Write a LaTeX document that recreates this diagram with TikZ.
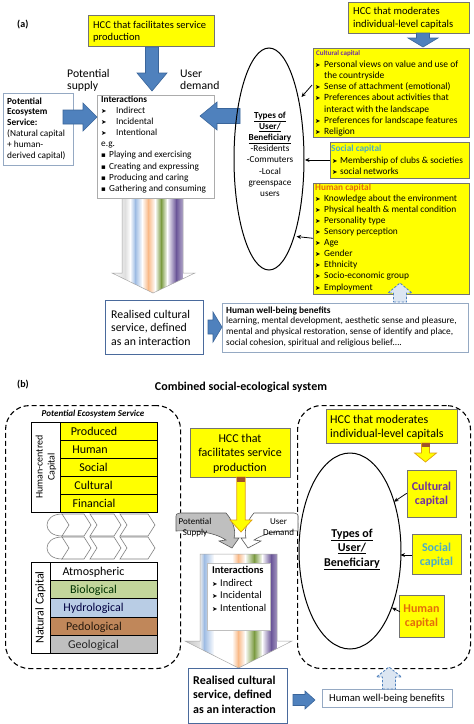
\documentclass[tikz,border=0pt]{standalone}
\usepackage{fontspec}
\setmainfont{Carlito}
\newfontfamily\symf{DejaVu Sans}
\usetikzlibrary{shapes.geometric,arrows.meta}
\definecolor{ylw}{HTML}{FFFF00}
\definecolor{bluA}{HTML}{4F81BD}
\definecolor{bluD}{HTML}{3A659A}
\definecolor{boxb}{HTML}{95A9C3}
\definecolor{realb}{HTML}{4A6A9C}
\definecolor{cultc}{HTML}{7030A0}
\definecolor{socc}{HTML}{4BACC6}
\definecolor{humc}{HTML}{E46C0A}
\definecolor{bio}{HTML}{C3D69B}
\definecolor{hyd}{HTML}{B9CDE5}
\definecolor{ped}{HTML}{C0875A}
\definecolor{geo}{HTML}{BFBFBF}
\definecolor{sblue}{HTML}{9DBBE3}
\definecolor{sorange}{HTML}{F9B987}
\definecolor{sgreen}{HTML}{7A9A40}
\definecolor{spurple}{HTML}{6A5598}
\definecolor{dfill}{HTML}{DCE6F2}
\definecolor{yedge}{HTML}{E0A010}
\definecolor{ybrown}{HTML}{A0522D}
\definecolor{gline}{HTML}{7F7F7F}
\newcommand\fsz[2]{\fontsize{#1}{#2}\selectfont}
\newcommand\tbox[2]{\parbox[t]{#1pt}{\raggedright #2}}
\newcommand\cbox[2]{\parbox[t]{#1pt}{\centering #2}}
\newcommand\arw[1]{\makebox[#1pt][l]{{\symf\fontsize{6.5}{6.5}\selectfont ➤}}}
\newcommand\sqb{\makebox[8pt][l]{{\symf\fontsize{7}{7}\selectfont ▪}}}
\newcommand\blkdown[7]{\path[#1] ({#2-#5},#3) -- ({#2+#5},#3) -- ({#2+#5},{#4-#7}) -- ({#2+#6},{#4-#7}) -- (#2,#4) -- ({#2-#6},{#4-#7}) -- ({#2-#5},{#4-#7}) -- cycle;}
\newcommand\blkup[7]{\path[#1] ({#2-#5},#3) -- ({#2+#5},#3) -- ({#2+#5},{#4+#7}) -- ({#2+#6},{#4+#7}) -- (#2,#4) -- ({#2-#6},{#4+#7}) -- ({#2-#5},{#4+#7}) -- cycle;}
\newcommand\blkright[7]{\path[#1] (#3,{#2-#5}) -- ({#4-#7},{#2-#5}) -- ({#4-#7},{#2-#6}) -- (#4,#2) -- ({#4-#7},{#2+#6}) -- ({#4-#7},{#2+#5}) -- (#3,{#2+#5}) -- cycle;}
\newcommand\blkleft[7]{\path[#1] (#4,{#2-#5}) -- ({#3+#7},{#2-#5}) -- ({#3+#7},{#2-#6}) -- (#3,#2) -- ({#3+#7},{#2+#6}) -- ({#3+#7},{#2+#5}) -- (#4,{#2+#5}) -- cycle;}
\newcommand\strp[6]{\shade[left color=#5, right color=#6] (#1,#3) rectangle (#2,#4);}
\begin{document}
\begin{tikzpicture}[x=1pt,y=-1pt,
  tx/.style={anchor=base west, inner sep=0pt},
  tc/.style={anchor=base, inner sep=0pt},
  ybox/.style={draw=black!55, fill=ylw, line width=0.5pt, inner sep=0pt, anchor=north west},
  wbox/.style={draw=boxb, fill=white, line width=0.8pt, inner sep=0pt, anchor=north west},
  cell/.style={draw=black, line width=0.6pt, minimum height=18pt, anchor=north west, inner sep=0pt},
  bluearr/.style={fill=bluA, draw=bluD, line width=0.6pt},
  yarr/.style={fill=ylw, draw=yedge, line width=0.7pt},
  dasharr/.style={fill=dfill, draw=bluA, line width=0.8pt, dash pattern=on 2.5pt off 1.5pt},
  tarr/.style={-{Stealth[length=4.5pt,width=4pt]}, line width=0.8pt},
  dashreg/.style={draw=black, line width=1.1pt, dash pattern=on 5pt off 3pt, rounded corners=24pt, inner sep=0pt, anchor=north west},
  chev/.style={fill=white, draw=gline, line width=0.6pt},
]
\useasboundingbox (0,0) rectangle (474,724);
\fill[white] (0,0) rectangle (474,724);

%%%%%%%%%%%%%%%% (a)
\node[tx] (labA) at (17,27) {\fsz{10}{12}\textbf{(a)}};

% gradient arrow (a)
\begin{scope}
\clip (122,198) -- (183,198) -- (183,273) -- (195,273) -- (153,293) -- (112,273) -- (122,273) -- cycle;
\strp{111}{125.3}{197}{294}{white}{gray!25}
\strp{125}{130.3}{197}{294}{gray!25}{white}
\strp{130}{135.3}{197}{294}{white}{sblue}
\strp{135}{142.3}{197}{294}{sblue}{white}
\strp{142}{148.3}{197}{294}{white}{sorange}
\strp{148}{155.3}{197}{294}{sorange}{white}
\strp{155}{161.3}{197}{294}{white}{sgreen}
\strp{161}{167.3}{197}{294}{sgreen}{white}
\strp{167}{176.3}{197}{294}{white}{spurple}
\strp{176}{183.3}{197}{294}{spurple}{spurple!50}
\fill[white] (183,197) rectangle (196,294);
\end{scope}
\draw[gray!70, line width=0.5pt] (122,198) -- (183,198) -- (183,273) -- (195,273) -- (153,293) -- (112,273) -- (122,273) -- cycle;

\node[ybox, minimum width=126pt, minimum height=31pt] (hccA) at (88,15) {};
\node[tx] (hccAt) at (93,28) {\tbox{125}{\fsz{10.5}{12}HCC that facilitates service\\production}};
\blkdown{bluearr}{152}{47}{91}{6.5}{15}{18}

\node[tx] (potA) at (67,77) {\tbox{60}{\fsz{11.7}{12.5}Potential\\supply}};
\node[tx] (usrA) at (180,77) {\tbox{60}{\fsz{11.7}{12.5}User\\demand}};

\node[wbox, minimum width=70pt, minimum height=72pt] (pesA) at (3,93) {};
\node[tx] (pesAt) at (7,104) {\tbox{68}{\fsz{9.3}{10.9}\textbf{Potential}\\\textbf{Ecosystem}\\\textbf{Service:}\\(Natural capital\\+ human-\\derived capital)}};

\node[draw=gray!65, fill=white, line width=0.7pt, inner sep=0pt, anchor=north west, minimum width=117pt, minimum height=103pt] (intA) at (97,95) {};
\node[tx] (intAt) at (101,102.7) {\tbox{115}{\fsz{9.3}{11.05}\textbf{Interactions}\\
\arw{15}Indirect\\
\arw{15}Incidental\\
\arw{15}Intentional\\
e.g.\\
\sqb Playing and exercising\\
\sqb Creating and expressing\\
\sqb Producing and caring\\
\sqb Gathering and consuming}};

\blkright{bluearr}{117}{63}{97}{7}{14}{14}
\blkleft{bluearr}{116}{200}{240}{7.5}{14}{17}

\node[draw, ellipse, line width=1pt, minimum width=70pt, minimum height=222pt, inner sep=0pt] (ellA) at (269,159) {};
\node[tc] (ellAt) at (270,118) {\cbox{64}{\fsz{9.2}{11.2}\underline{\textbf{Types of}}\\\underline{\textbf{User/}}\\\underline{\textbf{Beneficiary}}\\-Residents\\-Commuters\\-Local\\greenspace\\users}};

\node[ybox, minimum width=121pt, minimum height=31pt] (hccmA) at (348,2) {};
\node[tx] (hccmAt) at (353,14.5) {\tbox{118}{\fsz{10.6}{13}HCC that moderates\\individual-level capitals}};
\blkdown{bluearr}{423}{33}{47}{6.5}{15}{9}

\node[ybox, minimum width=156pt, minimum height=89pt] (cultA) at (313,48) {};
\node[tx] (cultAh) at (316,55.5) {\fsz{7}{8}\textbf{\color{cultc}Cultural capital}};
\node[tx] (cultAi) at (315,67) {\tbox{154}{\fsz{9.5}{11.25}\arw{9}Personal views on value and use of\\
\hspace*{9pt}the countryside\\
\arw{9}Sense of attachment (emotional)\\
\arw{9}Preferences about activities that\\
\hspace*{9pt}interact with the landscape\\
\arw{9}Preferences for landscape features\\
\arw{9}Religion}};

\node[ybox, minimum width=139pt, minimum height=36pt] (socA) at (330,142) {};
\node[tx] (socAh) at (331,151.5) {\fsz{9.3}{11}\textbf{\color{socc}Social capital}};
\node[tx] (socAi) at (332,163) {\tbox{137}{\fsz{9.3}{11}\arw{8}Membership of clubs \& societies\\
\arw{8}social networks}};

\node[ybox, minimum width=156pt, minimum height=111pt] (humA) at (313,183) {};
\node[tx] (humAh) at (315,190.5) {\fsz{9.3}{11}\textbf{\color{humc}Human capital}};
\node[tx] (humAi) at (315,201.7) {\tbox{154}{\fsz{9.4}{11.04}\arw{9}Knowledge about the environment\\
\arw{9}Physical health \& mental condition\\
\arw{9}Personality type\\
\arw{9}Sensory perception\\
\arw{9}Age\\
\arw{9}Gender\\
\arw{9}Ethnicity\\
\arw{9}Socio-economic group\\
\arw{9}Employment}};

\coordinate (cA1) at (312,85);   \coordinate (eA1) at (301.5,97);
\coordinate (sA1) at (330,160);  \coordinate (eA2) at (305,160);
\coordinate (hA1) at (313,238.3);\coordinate (eA3) at (296.5,236.5);
\draw[tarr] (cA1) -- (eA1);
\draw[tarr] (sA1) -- (eA2);
\draw[tarr] (hA1) -- (eA3);

\node[wbox, minimum width=246pt, minimum height=49pt] (hwbA) at (222,303) {};
\node[tx] (hwbAt) at (226,313) {\tbox{245}{\fsz{9.35}{10.8}\textbf{Human well-being benefits}\\
learning, mental development, aesthetic sense and pleasure,\\
mental and physical restoration, sense of identify and place,\\
social cohesion, spiritual and religious belief….}};
\blkup{dasharr}{400}{302}{283}{6.5}{12}{10}

\node[draw=realb, line width=1.2pt, fill=white, inner sep=0pt, anchor=north west, minimum width=98pt, minimum height=54pt] (realA) at (105,300) {};
\node[tx] (realAt) at (111,318) {\tbox{95}{\fsz{11.8}{13.5}Realised cultural\\service, defined\\as an interaction}};
\blkright{bluearr}{327}{208}{222}{7}{15}{9}

%%%%%%%%%%%%%%%% (b)
\node[tx] (labB) at (17,387) {\fsz{10}{12}\textbf{(b)}};
\node[tc] (titB) at (241,390) {\fsz{12}{14}\textbf{Combined social-ecological system}};

\node[dashreg, minimum width=175pt, minimum height=263pt] (regL) at (5,405) {};
\node[dashreg, minimum width=173pt, minimum height=263pt] (regR) at (297,405) {};

\node[tc] (pesB) at (93,416) {\fsz{9}{10}\textbf{\textit{Potential Ecosystem Service}}};

% upper table
\node[cell, fill=white, minimum width=29pt, minimum height=90pt] (hcCol) at (31,422) {};
\node[cell, fill=ylw, minimum width=97pt] (tP) at (60,422) {};
\node[cell, fill=ylw, minimum width=97pt] (tH) at (60,440) {};
\node[cell, fill=ylw, minimum width=97pt] (tS) at (60,458) {};
\node[cell, fill=ylw, minimum width=97pt] (tC) at (60,476) {};
\node[cell, fill=ylw, minimum width=97pt] (tF) at (60,494) {};
\node[draw, line width=1.2pt, minimum width=126pt, minimum height=90pt, anchor=north west, inner sep=0pt] (tabU) at (31,422) {};
\node[tc] (tPt) at (94,435) {\fsz{12}{14}Produced};
\node[tc] (tHt) at (90,453) {\fsz{12}{14}Human};
\node[tc] (tSt) at (93.5,471) {\fsz{12}{14}Social};
\node[tc] (tCt) at (93.5,489) {\fsz{12}{14}Cultural};
\node[tc] (tFt) at (94,507) {\fsz{12}{14}Financial};
\node[rotate=90, inner sep=0pt, align=center, font=\fsz{10}{12}] (hcLab) at (46,467) {Human-centred\\Capital};

% interleaving arrows
\foreach \yy in {514,537} {
  \foreach \xa/\xb in {62/84, 90/114, 120/148} {
    \path[chev] (\xa,\yy) -- (\xb,\yy) -- (\xb+7,\yy+11) -- (\xb,\yy+22) -- (\xa,\yy+22) -- (\xa+7,\yy+11) -- cycle;
  }
  \draw[gline, line width=0.6pt] (62,\yy) .. controls (42,\yy) and (42,\yy+22) .. (62,\yy+22);
}

% lower table
\node[cell, fill=white, minimum width=19pt, minimum height=91pt] (ncCol) at (31,562) {};
\node[cell, fill=white, minimum width=107pt] (tAt) at (50,562) {};
\node[cell, fill=bio, minimum width=107pt] (tBi) at (50,580) {};
\node[cell, fill=hyd, minimum width=107pt, minimum height=19pt] (tHy) at (50,598) {};
\node[cell, fill=ped, minimum width=107pt] (tPe) at (50,617) {};
\node[cell, fill=geo, minimum width=107pt] (tGe) at (50,635) {};
\node[draw, line width=1.2pt, minimum width=126pt, minimum height=91pt, anchor=north west, inner sep=0pt] (tabL) at (31,562) {};
\node[tc] (tAtt) at (93.5,575) {\fsz{12}{14}Atmospheric};
\node[tc] (tBit) at (93.5,593) {\fsz{12}{14}\color{black!80!green}Biological};
\node[tc] (tHyt) at (93.5,611.5) {\fsz{12}{14}\color{black!75!blue}Hydrological};
\node[tc] (tPet) at (94,630) {\fsz{12}{14}\color{black!80!brown}Pedological};
\node[tc] (tGet) at (93.5,648) {\fsz{12}{14}\color{black!85}Geological};
\node[rotate=90, inner sep=0pt, font=\fsz{12}{14}] (ncLab) at (40.5,607.5) {Natural Capital};

% middle column
\node[ybox, minimum width=100pt, minimum height=49pt] (hccB) at (190,428) {};
\node[tc] (hccBt) at (240,442) {\cbox{98}{\fsz{12}{14.5}HCC that\\facilitates service\\production}};

\path[fill=gray!50, draw=gray!70!black, line width=0.6pt] (176,518) .. controls (176,514) .. (180,513) -- (226,513) .. controls (234,522) and (236,532) .. (234,538) -- (239,538) -- (232,548) -- (219,541) -- (226,540) .. controls (214,532) and (195,530) .. (176,531) -- cycle;
\path[fill=white, draw=gray!70!black, line width=0.6pt] (298,518) .. controls (298,514) .. (294,513) -- (254,513) .. controls (246,522) and (244,532) .. (246,538) -- (241,538) -- (248,548) -- (261,541) -- (254,540) .. controls (266,532) and (285,530) .. (298,531) -- cycle;
\node[tc] (psB) at (195,524) {\cbox{50}{\fsz{9}{11}Potential\\Supply}};
\node[tc] (udB) at (278.5,524) {\cbox{50}{\fsz{9}{11}User\\Demand}};

\blkdown{yarr}{241}{477}{532}{4.2}{11}{12}
\fill[ybrown] (236.8,477) rectangle (245.2,482);

% gradient arrow (b)
\begin{scope}
\clip (200,554) -- (277,554) -- (277,641) -- (292,641) -- (238.5,668) -- (185,641) -- (200,641) -- cycle;
\strp{184}{200.3}{553}{669}{gray!50}{gray!20}
\strp{200}{204.3}{553}{669}{gray!15}{sblue}
\strp{204}{214.3}{553}{669}{sblue}{white}
\fill[white] (214,553) rectangle (232.3,669);
\strp{232}{238.3}{553}{669}{white}{sorange}
\strp{238}{245.3}{553}{669}{sorange}{white}
\strp{245}{254.3}{553}{669}{white}{sgreen}
\strp{254}{262.3}{553}{669}{sgreen}{white}
\strp{262}{271.3}{553}{669}{white}{spurple}
\strp{271}{277.3}{553}{669}{spurple}{spurple!60}
\fill[white] (277,553) rectangle (293,669);
\end{scope}
\draw[gray!70, line width=0.5pt] (200,554) -- (277,554) -- (277,641) -- (292,641) -- (238.5,668) -- (185,641) -- (200,641) -- cycle;
\node[draw=gray!50, fill=white, line width=0.6pt, inner sep=0pt, anchor=north west, minimum width=63pt, minimum height=67pt] (intB) at (207,563) {};
\node[tx] (intBt) at (212,573.5) {\tbox{60}{\fsz{10.4}{12.5}\textbf{Interactions}\\
\arw{8}Indirect\\
\arw{8}Incidental\\
\arw{8}Intentional}};

\node[draw=realb, line width=1.2pt, fill=white, inner sep=0pt, anchor=north west, minimum width=99pt, minimum height=55pt] (realB) at (188,668) {};
\node[tx] (realBt) at (193,684.5) {\tbox{95}{\fsz{12}{14.3}\textbf{Realised cultural}\\\textbf{service, defined}\\\textbf{as an interaction}}};
\blkright{bluearr}{700}{293}{315}{5.5}{9}{10}
\node[wbox, minimum width=130pt, minimum height=18pt] (hwbB) at (322,689) {};
\node[tc] (hwbBt) at (387,701.5) {\fsz{10.6}{12}Human well-being benefits};
\blkup{dasharr}{389}{689}{667}{6.5}{12.5}{10}

% right region
\node[ybox, minimum width=131pt, minimum height=34pt] (hccmB) at (326,409) {};
\node[tx] (hccmBt) at (330,423) {\tbox{128}{\fsz{12}{14}HCC that moderates\\individual-level capitals}};
\blkdown{yarr}{425.5}{443}{462}{4}{11}{9}
\fill[ybrown] (421.5,443) rectangle (429.5,447);

\node[draw, ellipse, line width=1pt, minimum width=102pt, minimum height=196pt, inner sep=0pt] (ellB) at (350,551) {};
\node[tc] (ellBt) at (352,537) {\cbox{90}{\fsz{12}{14.5}\underline{\textbf{Types of}}\\\underline{\textbf{User/}}\\\underline{\textbf{Beneficiary}}}};

\node[ybox, minimum width=49pt, minimum height=47pt] (cultB) at (407,470) {};
\node[tc] (cultBt) at (431.5,490) {\cbox{48}{\fsz{12}{14}\textbf{\color{cultc}Cultural\\capital}}};
\node[ybox, minimum width=49pt, minimum height=40pt] (socB) at (412,534) {};
\node[tc] (socBt) at (436.5,551) {\cbox{48}{\fsz{12}{14}\textbf{\color{socc}Social\\capital}}};
\node[ybox, minimum width=45pt, minimum height=42pt] (humB) at (399,595) {};
\node[tc] (humBt) at (421.5,612.5) {\cbox{44}{\fsz{12}{14}\textbf{\color{humc}Human\\capital}}};

\coordinate (cB1) at (406.7,493.3); \coordinate (eB1) at (394,501.7);
\coordinate (sB1) at (412,555);     \coordinate (eB2) at (400.5,555);
\coordinate (hB1) at (400,611.7);   \coordinate (eB3) at (392,607.7);
\draw[tarr] (cB1) -- (eB1);
\draw[tarr] (sB1) -- (eB2);
\draw[tarr] (hB1) -- (eB3);
\end{tikzpicture}
\end{document}
